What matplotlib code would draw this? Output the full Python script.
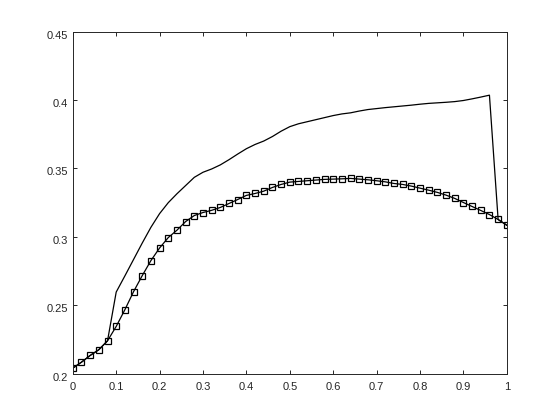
import matplotlib
matplotlib.use("Agg")
import matplotlib.pyplot as plt
import matplotlib.transforms as mtransforms

x = [i / 50 for i in range(51)]

y_markers = [0.2041, 0.2085, 0.2134, 0.2176, 0.2241, 0.2346, 0.2468, 0.2600, 0.2717, 0.2827,
             0.2919, 0.2995, 0.3049, 0.3112, 0.3156, 0.3178, 0.3194, 0.3215, 0.3244, 0.3273,
             0.3303, 0.3317, 0.3334, 0.3361, 0.3383, 0.3400, 0.3405, 0.3410, 0.3415, 0.3420,
             0.3422, 0.3424, 0.3427, 0.3422, 0.3417, 0.3410, 0.3402, 0.3390, 0.3383, 0.3371,
             0.3356, 0.3341, 0.3325, 0.3305, 0.3281, 0.3251, 0.3222, 0.3193, 0.3163, 0.3127,
             0.3085]

y_line = [0.2041, 0.2085, 0.2134, 0.2176, 0.2241, 0.2597, 0.2715, 0.2835, 0.2955, 0.3070,
          0.3170, 0.3250, 0.3315, 0.3375, 0.3435, 0.3472, 0.3496, 0.3526, 0.3564, 0.3605,
          0.3644, 0.3675, 0.3700, 0.3733, 0.3772, 0.3805, 0.3826, 0.3841, 0.3856, 0.3871,
          0.3886, 0.3898, 0.3906, 0.3919, 0.3930, 0.3937, 0.3944, 0.3950, 0.3956, 0.3962,
          0.3969, 0.3975, 0.3979, 0.3983, 0.3988, 0.3996, 0.4008, 0.4021, 0.4035, 0.3127,
          0.3085]

xticks = [0, 0.1, 0.2, 0.3, 0.4, 0.5, 0.6, 0.7, 0.8, 0.9, 1]
xticklabels = ["0", "0.1", "0.2", "0.3", "0.4", "0.5", "0.6", "0.7", "0.8", "0.9", "1"]
yticks = [0.2, 0.25, 0.3, 0.35, 0.4, 0.45]
yticklabels = ["0.2", "0.25", "0.3", "0.35", "0.4", "0.45"]

axcol = (0.15, 0.15, 0.15)
plt.rcParams["font.family"] = ["Liberation Sans", "DejaVu Sans"]

fig = plt.figure(figsize=(5.6, 4.2), dpi=100)
ax = fig.add_axes([0.13, 0.11, 0.775, 0.815])

ax.plot(x, y_line, color="black", linewidth=0.9)
ax.plot(x, y_markers, color="black", linewidth=0.9, marker="s", markersize=4.8,
        markerfacecolor="none", markeredgecolor="black", markeredgewidth=0.9)

ax.set_xlim(0, 1)
ax.set_ylim(0.2, 0.45)
ax.set_xticks(xticks)
ax.set_xticklabels(xticklabels)
ax.set_yticks(yticks)
ax.set_yticklabels(yticklabels)

ax.tick_params(direction="in", length=3.2, width=0.7, colors=axcol, labelsize=8,
               top=True, right=True)
ax.tick_params(axis="x", pad=6)
ax.tick_params(axis="y", pad=3.5)
for s in ax.spines.values():
    s.set_color(axcol)
    s.set_linewidth(0.7)

offset = mtransforms.ScaledTranslation(0, -3 / 100, fig.dpi_scale_trans)
for lab in ax.get_yticklabels():
    lab.set_transform(lab.get_transform() + offset)

fig.savefig("out.png", dpi=100, facecolor="white")
